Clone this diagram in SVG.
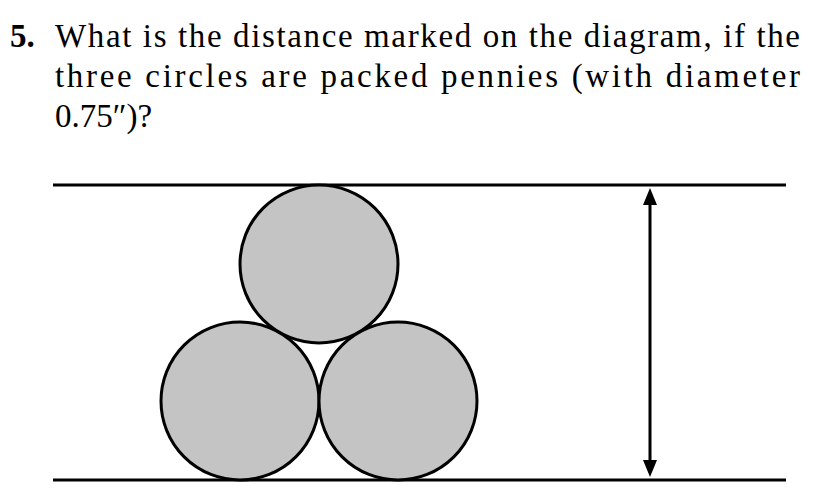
<svg xmlns="http://www.w3.org/2000/svg" width="819" height="503" viewBox="0 0 819 503">
<style>
.t{font-family:"Liberation Serif","DejaVu Serif",serif;font-size:33px;fill:#000}
.c{fill:#c4c4c4;stroke:#000;stroke-width:3}
.l{stroke:#000;stroke-width:3}
</style>
<rect width="819" height="503" fill="#fff"/>
<text class="t" x="10" y="47"><tspan font-weight="bold">5.</tspan></text>
<text class="t" x="55" y="47" textLength="745" lengthAdjust="spacing">What is the distance marked on the diagram, if the</text>
<text class="t" x="55" y="87" textLength="745" lengthAdjust="spacing">three circles are packed pennies (with diameter</text>
<text class="t" x="55" y="127">0.75″)?</text>
<line class="l" x1="53" y1="185" x2="786" y2="185"/>
<line class="l" x1="53" y1="480" x2="786" y2="480"/>
<circle class="c" cx="319" cy="264" r="79"/>
<circle class="c" cx="240" cy="401" r="79"/>
<circle class="c" cx="398" cy="401" r="79"/>
<line class="l" x1="650" y1="202" x2="650" y2="463"/>
<path d="M650,188L643,205L657,205z M650,477L643,460L657,460z" fill="#000"/>
</svg>
